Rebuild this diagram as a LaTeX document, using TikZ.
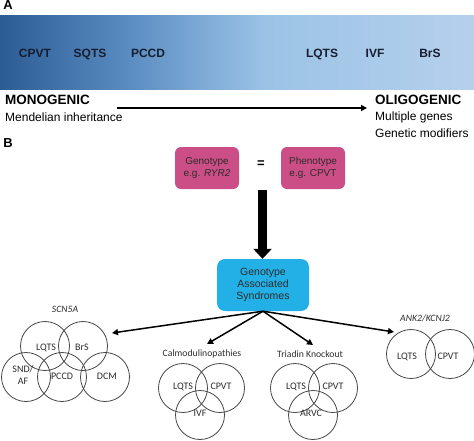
\documentclass[tikz,border=0pt]{standalone}
\usepackage{fontspec}
\setmainfont{Liberation Sans}
\newfontfamily\calfont{Carlito}
\usetikzlibrary{arrows.meta}
\definecolor{barL}{RGB}{44,92,148}
\definecolor{barM1}{RGB}{88,138,192}
\definecolor{barM}{RGB}{155,195,230}
\definecolor{barR}{RGB}{182,208,236}
\definecolor{barTxt}{RGB}{22,30,48}
\definecolor{pinkbox}{RGB}{204,78,134}
\definecolor{cyanbox}{RGB}{34,176,230}
\definecolor{txt}{RGB}{45,45,45}
\definecolor{circ}{RGB}{70,70,70}
\pgfdeclarehorizontalshading{barshade}{100bp}{color(0bp)=(barL); color(25bp)=(barL); color(38bp)=(barM1); color(53bp)=(barM); color(75bp)=(barR); color(100bp)=(barR)}
\tikzset{
  barlbl/.style={anchor=base, font=\bfseries\fontsize{12}{14}\selectfont, text=barTxt, inner sep=0pt},
  panel/.style={font=\bfseries\fontsize{13}{15}\selectfont, inner sep=0pt},
  headlbl/.style={anchor=west, font=\bfseries\fontsize{13.5}{16}\selectfont, inner sep=0pt},
  sublbl/.style={anchor=west, font=\fontsize{12}{14}\selectfont, inner sep=0pt},
  pinkb/.style={fill=pinkbox, rounded corners=6pt, minimum width=64pt, minimum height=42pt, inner sep=0pt, align=center, font=\fontsize{10}{12}\selectfont, text=txt},
  cyanb/.style={fill=cyanbox, rounded corners=8pt, minimum width=92pt, minimum height=52pt, inner sep=0pt, align=center, font=\fontsize{10.5}{12}\selectfont, text=txt},
  venn/.style={draw=circ, line width=0.8pt, circle, minimum size=49pt, inner sep=0pt},
  vlbl/.style={anchor=base, font=\calfont\fontsize{10}{12}\selectfont, text=txt, inner sep=0pt, align=center},
  grplbl/.style={font=\calfont\fontsize{9.7}{12}\selectfont, text=txt, inner sep=0pt},
  fan/.style={line width=1.5pt, -{Triangle[length=6pt,width=6pt]}},
  thinarrow/.style={line width=1.3pt, -{Triangle[length=6pt,width=6pt]}},
  bigarrow/.style={line width=9pt, -{Triangle[length=10pt,width=18pt]}},
}
\begin{document}
\begin{tikzpicture}[x=1pt,y=-1pt]
\useasboundingbox (0,0) rectangle (474,440);
% Panel A
\node[panel] (pA) at (8,5) {A};
\shade[shading=barshade] (0,15) rectangle (474,89);
\node[barlbl] (b1) at (35,57.5) {CPVT};
\node[barlbl] (b2) at (90,57.5) {SQTS};
\node[barlbl] (b3) at (148,57.5) {PCCD};
\node[barlbl] (b4) at (322,57.5) {LQTS};
\node[barlbl] (b5) at (375,57.5) {IVF};
\node[barlbl] (b6) at (430,57.5) {BrS};
\node[headlbl] (mono) at (5,100) {MONOGENIC};
\node[sublbl] (mend) at (5,117) {Mendelian inheritance};
\node[headlbl] (oligo) at (375,100) {OLIGOGENIC};
\node[sublbl] (mult) at (375,117) {Multiple genes};
\node[sublbl] (modi) at (375,133) {Genetic modifiers};
\coordinate (ar1) at (117,108);
\coordinate (ar2) at (367,108);
\draw[thinarrow] (ar1) -- (ar2);
% Panel B
\node[panel] (pB) at (8,143) {B};
\node[pinkb] (geno) at (207,168) {Genotype\\e.g. \textit{RYR2}};
\node[pinkb] (pheno) at (313,168) {Phenotype\\e.g. CPVT};
\node[font=\bfseries\fontsize{13}{15}\selectfont, inner sep=0pt] (eq) at (261,164) {=};
\node[cyanb] (gas) at (263,285) {Genotype\\Associated\\Syndromes};
\coordinate (bigstart) at (262.5,190);
\draw[bigarrow] (bigstart) -- (bigstart |- gas.north);
% fan arrows
\coordinate (tScn) at (112,333);
\coordinate (tCal) at (207,344);
\coordinate (tTri) at (313,345);
\coordinate (tAnk) at (394,332);
\draw[fan] (gas.south) -- (tScn);
\draw[fan] (gas.south) -- (tCal);
\draw[fan] (gas.south) -- (tTri);
\draw[fan] (gas.south) -- (tAnk);
% SCN5A
\node[grplbl, font=\calfont\itshape\fontsize{9.7}{12}\selectfont] (gScn) at (65,309) {SCN5A};
\node[venn] (s1) at (45,346) {};
\node[venn] (s2) at (83,346) {};
\node[venn] (s3) at (26,377) {};
\node[venn] (s4) at (62,377) {};
\node[venn] (s5) at (105,377) {};
\node[vlbl] (ls1) at (46,350.5) {LQTS};
\node[vlbl] (ls2) at (82,350.5) {BrS};
\node[vlbl] (ls3) at (23,384.5) {SND/\\AF};
\node[vlbl] (ls4) at (62,379.5) {PCCD};
\node[vlbl] (ls5) at (107,379.5) {DCM};
% Calmodulinopathies
\node[grplbl] (gCal) at (202,354) {Calmodulinopathies};
\node[venn] (c1) at (183,388) {};
\node[venn] (c2) at (220,388) {};
\node[venn] (c3) at (200,415) {};
\node[vlbl] (lc1) at (183,389.5) {LQTS};
\node[vlbl] (lc2) at (221,389.5) {CPVT};
\node[vlbl] (lc3) at (200,416.5) {IVF};
% Triadin Knockout
\node[grplbl] (gTri) at (310,354) {Triadin Knockout};
\node[venn] (t1) at (295,388) {};
\node[venn] (t2) at (333,388) {};
\node[venn] (t3) at (313,415) {};
\node[vlbl] (lt1) at (296,389.5) {LQTS};
\node[vlbl] (lt2) at (333,389.5) {CPVT};
\node[vlbl] (lt3) at (311,416.5) {ARVC};
% ANK2/KCNJ2
\node[grplbl, font=\calfont\itshape\fontsize{9.7}{12}\selectfont] (gAnk) at (425,318) {ANK2/KCNJ2};
\node[venn] (k1) at (411,354) {};
\node[venn] (k2) at (450,354) {};
\node[vlbl] (lk1) at (407,359.5) {LQTS};
\node[vlbl] (lk2) at (448,359.5) {CPVT};
\end{tikzpicture}
\end{document}
